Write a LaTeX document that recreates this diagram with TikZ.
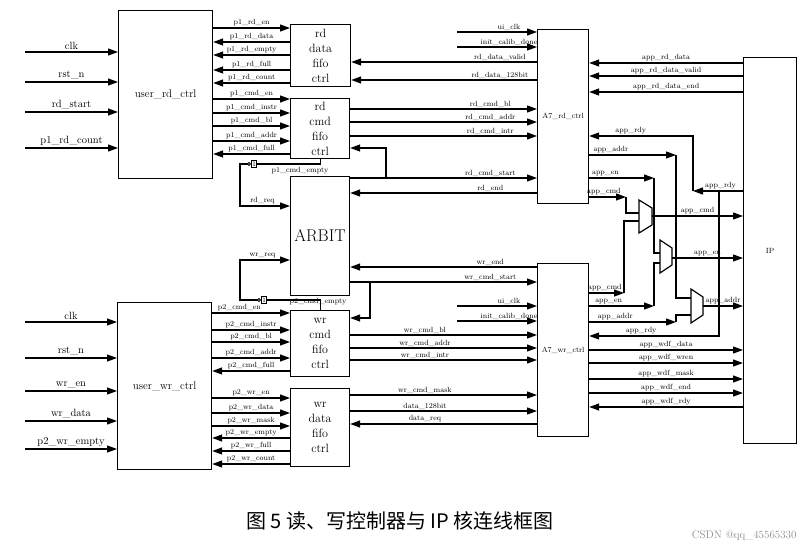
\documentclass[tikz,border=0pt]{standalone}
\usepackage{fontspec}
\newfontfamily\cjk{Noto Sans CJK SC}
\usetikzlibrary{arrows.meta}
\tikzset{
	blk/.style={draw,line width=1.2pt,anchor=north west,align=center,inner sep=0pt},
	wire/.style={line width=1.2pt},
	sig/.style={line width=1.2pt,-{Triangle[length=10pt,width=7pt]}},
	lab/.style={font=\fontsize{7.5}{8}\selectfont,inner sep=1pt},
	inl/.style={font=\fontsize{10.5}{11}\selectfont,inner sep=2pt},
	fifo/.style={blk,font=\fontsize{12}{15}\selectfont},
}
\begin{document}
\begin{tikzpicture}[x=1pt,y=-1pt]
\useasboundingbox (0,0) rectangle (806,553);
% blocks
\node[blk,minimum width=94pt,minimum height=168pt,font=\fontsize{11}{12}\selectfont] (urd) at (118,10) {user\_rd\_ctrl};
\node[blk,minimum width=94pt,minimum height=167pt,font=\fontsize{11}{12}\selectfont] (uwr) at (117,302) {user\_wr\_ctrl};
\node[fifo,minimum width=60pt,minimum height=62pt] (rdd) at (290,24) {rd\\data\\fifo\\ctrl};
\node[fifo,minimum width=59pt,minimum height=60pt] (rcmd) at (290,98) {rd\\cmd\\fifo\\ctrl};
\node[blk,minimum width=59pt,minimum height=119pt,font=\fontsize{17}{18}\selectfont] (arb) at (290,176) {ARBIT};
\node[fifo,minimum width=59pt,minimum height=66pt] (wcmd) at (290,310) {wr\\cmd\\fifo\\ctrl};
\node[fifo,minimum width=59pt,minimum height=78pt] (wdat) at (290,388) {wr\\data\\fifo\\ctrl};
\node[blk,minimum width=51pt,minimum height=174pt,font=\fontsize{7.5}{8}\selectfont] (a7r) at (537,29) {A7\_rd\_ctrl};
\node[blk,minimum width=51pt,minimum height=173pt,font=\fontsize{7.5}{8}\selectfont] (a7w) at (537,263) {A7\_wr\_ctrl};
\node[blk,minimum width=53pt,minimum height=386pt,font=\fontsize{7.5}{8}\selectfont] (ip) at (743,57) {IP};
% user inputs
\foreach \y/\t in {52/clk,82/rst\_n,112/rd\_start,148/p1\_rd\_count}
	\draw[sig] (25,\y) -- (urd.west |- 0,\y) node[midway,above,inl] {\t};
\foreach \y/\t in {322/clk,358/rst\_n,391/wr\_en,421/wr\_data,449/p2\_wr\_empty}
	\draw[sig] (25,\y) -- (uwr.west |- 0,\y) node[midway,above,inl] {\t};
% user_rd_ctrl <-> fifos
\foreach \y/\t in {28/p1\_rd\_en}
	\draw[sig] (urd.east |- 0,\y) -- (rdd.west |- 0,\y) node[midway,above,lab] {\t};
\foreach \y/\t in {42/p1\_rd\_data,55/p1\_rd\_empty,70/p1\_rd\_full,83/p1\_rd\_count}
	\draw[sig] (rdd.west |- 0,\y) -- (urd.east |- 0,\y) node[midway,above,lab] {\t};
\foreach \y/\t in {99/p1\_cmd\_en,113/p1\_cmd\_instr,126/p1\_cmd\_bl,141/p1\_cmd\_addr}
	\draw[sig] (urd.east |- 0,\y) -- (rcmd.west |- 0,\y) node[midway,above,lab] {\t};
\foreach \y/\t in {154/p1\_cmd\_full}
	\draw[sig] (rcmd.west |- 0,\y) -- (urd.east |- 0,\y) node[midway,above,lab] {\t};
% user_wr_ctrl <-> fifos
\draw[sig] (uwr.east |- 0,313) -- (wcmd.west |- 0,313) node[pos=0.35,above,lab] {p2\_cmd\_en};
\foreach \y/\t in {330/p2\_cmd\_instr,342/p2\_cmd\_bl,358/p2\_cmd\_addr}
	\draw[sig] (uwr.east |- 0,\y) -- (wcmd.west |- 0,\y) node[midway,above,lab] {\t};
\foreach \y/\t in {371/p2\_cmd\_full}
	\draw[sig] (wcmd.west |- 0,\y) -- (uwr.east |- 0,\y) node[midway,above,lab] {\t};
\foreach \y/\t in {398/p2\_wr\_en,413/p2\_wr\_data,426/p2\_wr\_mask}
	\draw[sig] (uwr.east |- 0,\y) -- (wdat.west |- 0,\y) node[midway,above,lab] {\t};
\foreach \y/\t in {438/p2\_wr\_empty,451/p2\_wr\_full,464/p2\_wr\_count}
	\draw[sig] (wdat.west |- 0,\y) -- (uwr.east |- 0,\y) node[midway,above,lab] {\t};
% inverters and requests
\node[draw,line width=1pt,inner sep=1pt,font=\fontsize{7}{8}\selectfont] (inv1) at (254,164) {1};
\node[draw,line width=1pt,inner sep=1pt,font=\fontsize{7}{8}\selectfont] (inv2) at (264,300) {1};
\draw[line width=0.8pt] ([xshift=-1.5pt]inv1.west) circle (1.5pt);
\draw[line width=0.8pt] ([xshift=-1.5pt]inv2.west) circle (1.5pt);
\draw[wire] (inv1.east) -| (rcmd.south);
\draw[wire] (inv2.east) -| (wcmd.north);
\node[lab] at (300,171) {p1\_cmd\_empty};
\node[lab] at (318,302) {p2\_cmd\_empty};
\draw[sig] ([xshift=-3pt]inv1.west) -| (240,206) -- (arb.west |- 0,206) node[pos=0.45,above,lab] {rd\_req};
\draw[sig] ([xshift=-3pt]inv2.west) -| (240,260) -- (arb.west |- 0,260) node[pos=0.45,above,lab] {wr\_req};
% ARBIT <-> A7
\draw[sig] (arb.east |- 0,178) -- (a7r.west |- 0,178) node[pos=0.75,above,lab] {rd\_cmd\_start};
\draw[sig] (386,178) |- (rcmd.east |- 0,148);
\draw[sig] (a7r.west |- 0,193) -- (arb.east |- 0,193) node[pos=0.25,above,lab] {rd\_end};
\draw[sig] (a7w.west |- 0,267) -- (arb.east |- 0,267) node[pos=0.25,above,lab] {wr\_end};
\draw[sig] (arb.east |- 0,282) -- (a7w.west |- 0,282) node[pos=0.75,above,lab] {wr\_cmd\_start};
\draw[sig] (370,282) |- (wcmd.east |- 0,318);
% A7_rd_ctrl left side
\foreach \y/\t in {32/ui\_clk,47/init\_calib\_done}
	\draw[sig] (457,\y) -- (a7r.west |- 0,\y) node[pos=0.65,above,lab] {\t};
\foreach \y/\t in {62/rd\_data\_valid,80/rd\_data\_128bit}
	\draw[sig] (a7r.west |- 0,\y) -- (rdd.east |- 0,\y) node[pos=0.2,above,lab] {\t};
\foreach \y/\t in {109/rd\_cmd\_bl,122/rd\_cmd\_addr,136/rd\_cmd\_intr}
	\draw[sig] (rcmd.east |- 0,\y) -- (a7r.west |- 0,\y) node[pos=0.75,above,lab] {\t};
% A7_wr_ctrl left side
\foreach \y/\t in {306/ui\_clk,321/init\_calib\_done}
	\draw[sig] (457,\y) -- (a7w.west |- 0,\y) node[pos=0.65,above,lab] {\t};
\foreach \y/\t in {335/wr\_cmd\_bl,348/wr\_cmd\_addr,360/wr\_cmd\_intr}
	\draw[sig] (wcmd.east |- 0,\y) -- (a7w.west |- 0,\y) node[pos=0.4,above,lab] {\t};
\foreach \y/\t in {395/wr\_cmd\_mask,411/data\_128bit}
	\draw[sig] (wdat.east |- 0,\y) -- (a7w.west |- 0,\y) node[pos=0.4,above,lab] {\t};
\draw[sig] (a7w.west |- 0,424) -- (wdat.east |- 0,424) node[pos=0.6,above,lab] {data\_req};
% IP read side
\foreach \y/\t in {63/app\_rd\_data,76/app\_rd\_data\_valid,92/app\_rd\_data\_end}
	\draw[sig] (ip.west |- 0,\y) -- (a7r.east |- 0,\y) node[midway,above,lab] {\t};
% muxes
\draw[wire] (639,200) coordinate (m1) -- (652,208) -- (652,225) -- (639,233) -- cycle;
\draw[wire] (660,240) coordinate (m2) -- (672,248) -- (672,265) -- (660,273) -- cycle;
\draw[wire] (691,289) coordinate (m3) -- (703,297) -- (703,315) -- (691,323) -- cycle;
\draw[sig] (652,216) -- (ip.west |- 0,216) node[midway,above,lab] {app\_cmd};
\draw[sig] (672,258) -- (ip.west |- 0,258) node[midway,above,lab] {app\_en};
\draw[sig] (703,306) -- (ip.west |- 0,306) node[pos=0.5,above,lab] {app\_addr};
% rd ctrl to muxes
\draw[sig] (a7r.east |- 0,155) -- (676,155) node[pos=0.25,above,lab] {app\_addr};
\draw[wire] (676,155) |- (691,298);
\draw[sig] (a7r.east |- 0,178) -- (654,178) node[pos=0.25,above,lab] {app\_en};
\draw[wire] (654,178) |- (660,253);
\draw[sig] (a7r.east |- 0,197) -- (626,197) node[pos=0.4,above,lab] {app\_cmd};
\draw[wire] (626,197) |- (639,213);
% wr ctrl to muxes
\draw[sig] (a7w.east |- 0,293) -- (624,293) node[pos=0.45,above,lab] {app\_cmd};
\draw[wire] (624,293) |- (639,221);
\draw[sig] (a7w.east |- 0,306) -- (654,306) node[pos=0.3,above,lab] {app\_en};
\draw[wire] (654,306) |- (660,263);
\draw[sig] (a7w.east |- 0,322) -- (676,322) node[pos=0.3,above,lab] {app\_addr};
\draw[wire] (676,322) |- (691,315);
% app_rdy
\draw[sig] (ip.west |- 0,191) -- (693,191) node[pos=0.45,above,lab] {app\_rdy};
\draw[sig] (693,191) |- (a7r.east |- 0,136) node[pos=0.8,above,lab] {app\_rdy};
\draw[sig] (719,191) |- (a7w.east |- 0,336) node[pos=0.8,above,lab] {app\_rdy};
% IP write side
\foreach \y/\t in {350/app\_wdf\_data,363/app\_wdf\_wren,379/app\_wdf\_mask,393/app\_wdf\_end}
	\draw[sig] (a7w.east |- 0,\y) -- (ip.west |- 0,\y) node[midway,above,lab] {\t};
\draw[sig] (ip.west |- 0,407) -- (a7w.east |- 0,407) node[midway,above,lab] {app\_wdf\_rdy};
% caption
\node[font=\cjk\fontsize{20}{21}\selectfont] (cap) at (400,521) {图 5 读、写控制器与 IP 核连线框图};
\node[font=\fontsize{11}{12}\selectfont,text=black!45,anchor=east] (wm) at (800,536) {CSDN @qq\_45565330};
\end{tikzpicture}
\end{document}
